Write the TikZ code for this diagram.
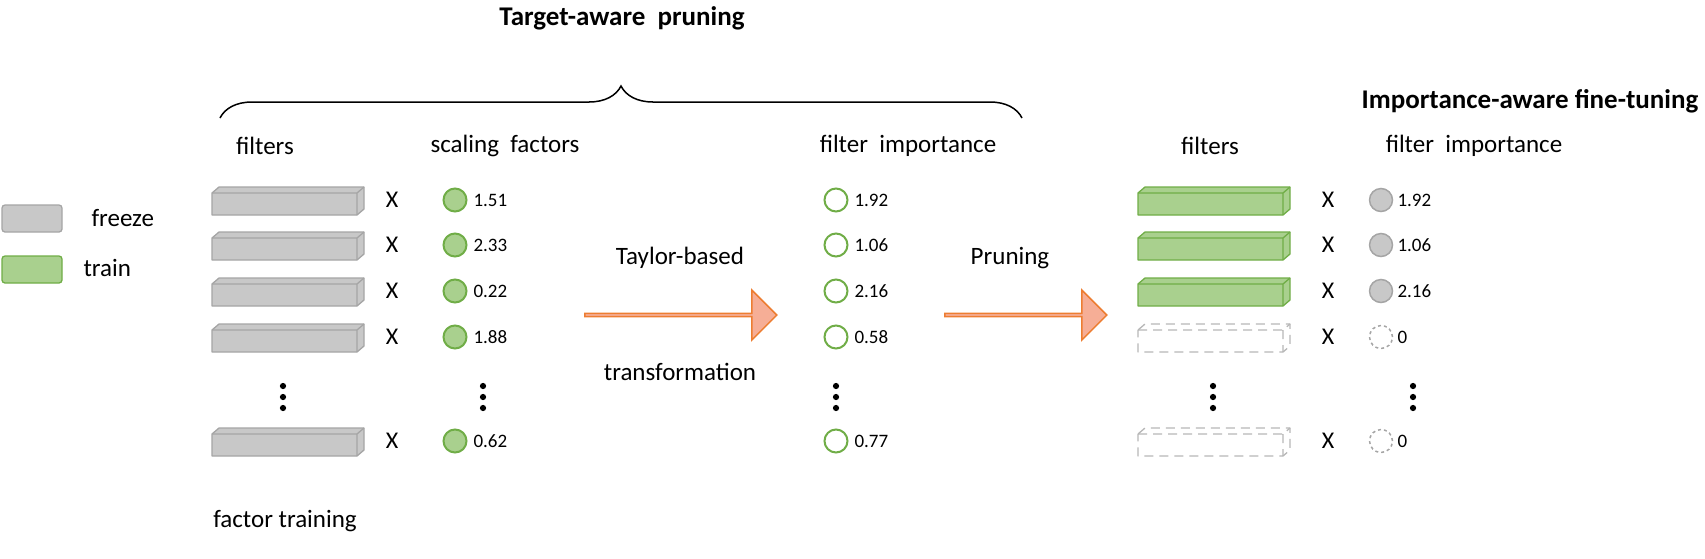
\documentclass[tikz,border=0pt]{standalone}
\usepackage{fontspec}
\setmainfont{Carlito}
\usetikzlibrary{decorations.pathreplacing,shapes.arrows}
\definecolor{gfill}{RGB}{169,208,142}
\definecolor{gline}{RGB}{112,173,71}
\definecolor{greyf}{RGB}{200,200,200}
\definecolor{greyl}{RGB}{165,165,165}
\definecolor{ofill}{RGB}{246,174,150}
\definecolor{oline}{RGB}{237,125,49}
\tikzset{
 lab/.style={font=\fontsize{25}{25}\selectfont},
 num/.style={font=\fontsize{19}{19}\selectfont,anchor=west},
 xx/.style={font=\fontsize{24}{24}\selectfont},
 dot/.style={fill=black,circle,inner sep=2.2pt},
 sc/.style={circle,draw=gline,line width=2pt,fill=gfill,minimum size=23pt,inner sep=0},
 fi/.style={circle,draw=gline,line width=2pt,fill=white,minimum size=23pt,inner sep=0},
 gi/.style={circle,draw=greyl,line width=1.5pt,fill=greyf,minimum size=23pt,inner sep=0},
 di/.style={circle,draw=greyl,line width=1.5pt,dashed,minimum size=23pt,inner sep=0},
 bigarrow/.style={single arrow,draw=oline,fill=ofill,line width=1.5pt,minimum width=50pt,single arrow head extend=11pt,inner sep=0}
}
\newcommand{\myfilter}[5]{%
 \draw[fill=#1,draw=#2,line width=1.3pt,#3,line join=round] (#4,#5-7) -- ++(7,-6) -- ++(145,0) -- ++(0,22) -- ++(-7,6) -- ++(-145,0) -- cycle;
 \draw[draw=#2,line width=1.3pt,#3] (#4,#5-7) -- ++(145,0) -- ++(7,-6) (#4+145,#5-7) -- ++(0,22);
}
\begin{document}
\begin{tikzpicture}[x=1pt,y=-1pt]
\useasboundingbox (0,0) rectangle (1705,558);
\node[font=\bfseries\fontsize{27}{27}\selectfont] (title) at (622,18) {Target-aware\ \ pruning};
\draw[line width=1.5pt,decoration={brace,amplitude=32pt},decorate] (220,118) -- (1022,118);
\node[font=\bfseries\fontsize{27}{27}\selectfont] (title2) at (1530,101) {Importance-aware fine-tuning};
\node[lab] at (265,146) {filters};
\node[lab] at (505,146) {scaling\ \ factors};
\node[lab] at (908,146) {filter\ \ importance};
\node[lab] at (1210,146) {filters};
\node[lab] at (1474,146) {filter\ \ importance};
\node[lab] at (285,521) {factor training};
% legend
\draw[fill=greyf,draw=greyl,line width=1.3pt,rounded corners=3pt] (2,205) rectangle (62,232);
\node[lab,anchor=west] at (88,218) {freeze};
\draw[fill=gfill,draw=gline,line width=1.3pt,rounded corners=3pt] (2,256) rectangle (62,283);
\node[lab,anchor=west] at (80,268) {train};
% left block
\foreach \y/\a/\b in {200/1.51/1.92,245/2.33/1.06,291/0.22/2.16,337/1.88/0.58,441/0.62/0.77}{
 \myfilter{greyf}{greyl}{}{212}{\y}
 \node[xx] at (392,\y) {X};
 \node[sc] at (455,\y) {};
 \node[num] at (470,\y) {\a};
 \node[fi] at (836,\y) {};
 \node[num] at (851,\y) {\b};
}
\foreach \x in {283,483,836,1213,1413}{
 \node[dot] at (\x,386) {}; \node[dot] at (\x,397) {}; \node[dot] at (\x,408) {};
}
% arrows
\node[bigarrow,minimum height=192pt] (a1) at (680,315) {};
\node[lab] at (680,258) {Taylor-based};
\node[lab] at (680,372) {transformation};
\node[bigarrow,minimum height=162pt] (a2) at (1025,315) {};
\node[lab] at (1010,258) {Pruning};
% right block
\foreach \y/\b in {200/1.92,245/1.06,291/2.16}{
 \myfilter{gfill}{gline}{}{1138}{\y}
 \node[xx] at (1328,\y) {X};
 \node[gi] at (1381,\y) {};
 \node[num] at (1394,\y) {\b};
}
\foreach \y in {337,441}{
 \myfilter{white}{greyl!80}{dash pattern=on 9pt off 6pt}{1138}{\y}
 \node[xx] at (1328,\y) {X};
 \node[di] at (1381,\y) {};
 \node[num] at (1394,\y) {0};
}
\end{tikzpicture}
\end{document}
